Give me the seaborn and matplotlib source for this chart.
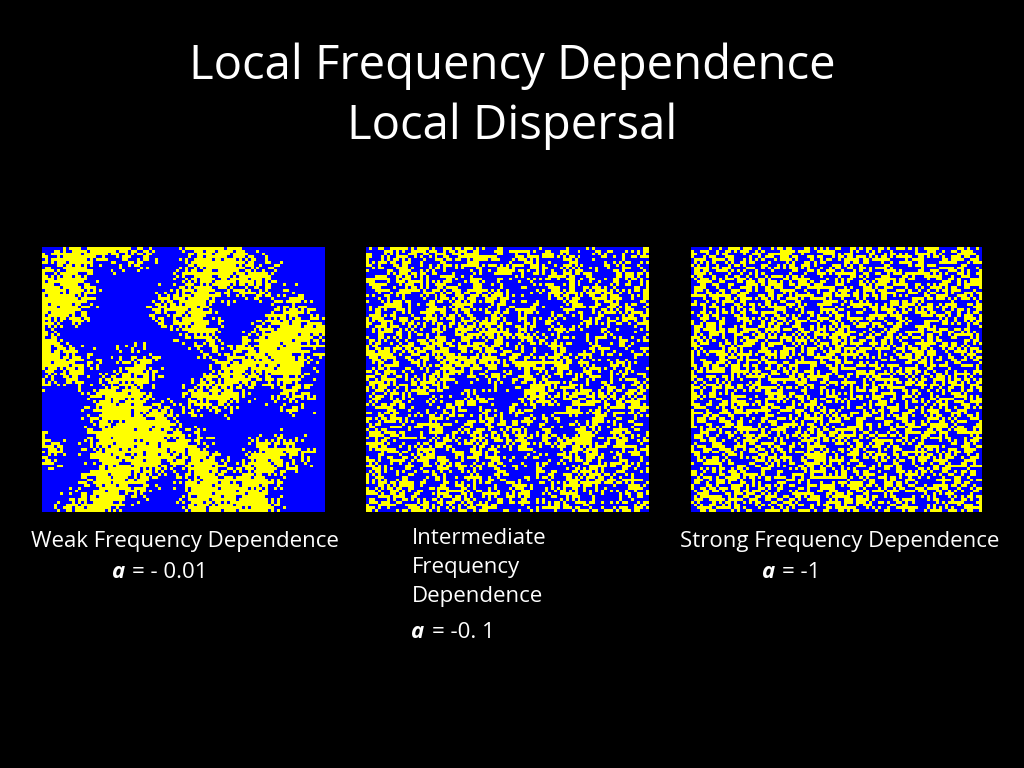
import numpy as np
import matplotlib
matplotlib.use("Agg")
import matplotlib.pyplot as plt
import seaborn as sns
from matplotlib.colors import ListedColormap

titles = ["Local Frequency Dependence", "Local Dispersal"]
labels = ["Weak Frequency Dependence", "Intermediate\nFrequency\nDependence", "Strong Frequency Dependence"]
a_values = ["= - 0.01", "= -0. 1", "= -1"]
# coarse yellow(1)/blue(0) layout
coarse_weak = np.array([
 [0,1,1,1,0,1,1,0,0,0],
 [1,1,0,0,0,1,1,1,0,0],
 [1,1,0,0,1,1,0,0,1,0],
 [1,0,0,0,0,1,0,1,1,1],
 [1,1,0,1,0,0,1,1,1,0],
 [0,0,1,1,0,1,1,0,1,0],
 [0,0,1,1,1,0,0,0,0,0],
 [1,0,1,1,1,1,0,1,1,0],
 [0,0,1,1,0,1,1,1,0,0],
 [0,1,1,0,0,1,1,1,0,0]], float)
N = 95

def hashgrid(n, m, seed):
    i, j = np.meshgrid(np.arange(n), np.arange(m), indexing="ij")
    v = np.sin(i * 12.9898 + j * 78.233 + seed * 37.719) * 43758.5453
    return v - np.floor(v)

def upsample(c, n):
    k = c.shape[0]
    x = np.linspace(0, k - 1, n)
    rows = np.array([np.interp(x, np.arange(k), r) for r in c])
    return np.array([np.interp(x, np.arange(k), col) for col in rows.T]).T

g1 = (0.6 * upsample(coarse_weak, N) + 0.1 * upsample(hashgrid(30, 30, 7), N)
      + 0.6 * hashgrid(N, N, 1) > 0.72).astype(int)
mid = upsample(hashgrid(24, 24, 5), N)
g2 = (0.55 * mid + 0.7 * hashgrid(N, N, 2) > 0.66).astype(int)
g3 = (hashgrid(N, N, 3) > 0.5).astype(int)

fig = plt.figure(figsize=(10.24, 7.68), dpi=100, facecolor="black")
cmap = ListedColormap(["#0000FF", "#FFFF00"])
boxes = [(42, 325), (366, 649), (691, 982)]
for (x0, x1), g in zip(boxes, [g1, g2, g3]):
    ax = fig.add_axes([x0 / 1024, 1 - 512 / 768, (x1 - x0) / 1024, 265 / 768])
    sns.heatmap(g, ax=ax, cmap=cmap, cbar=False, xticklabels=False, yticklabels=False, vmin=0, vmax=1)
    ax.set_axis_off()

font = "Open Sans"
fig.text(0.5, 1 - 66 / 768, titles[0], color="white", fontsize=34, ha="center", va="center", family=font)
fig.text(0.5, 1 - 126 / 768, titles[1], color="white", fontsize=34, ha="center", va="center", family=font)

fs = 16
fig.text(185 / 1024, 1 - 542 / 768, labels[0], color="white", fontsize=fs, ha="center", va="center", family=font)
fig.text(118 / 1024, 1 - 573 / 768, "a", color="white", fontsize=fs, ha="center", va="center", family=font, weight="bold", style="italic")
fig.text(132 / 1024, 1 - 573 / 768, a_values[0], color="white", fontsize=fs, ha="left", va="center", family=font)

fig.text(412 / 1024, 1 - 528 / 768, labels[1], color="white", fontsize=fs, ha="left", va="top", family=font, linespacing=1.5)
fig.text(417 / 1024, 1 - 633 / 768, "a", color="white", fontsize=fs, ha="center", va="center", family=font, weight="bold", style="italic")
fig.text(432 / 1024, 1 - 633 / 768, a_values[1], color="white", fontsize=fs, ha="left", va="center", family=font)

fig.text(840 / 1024, 1 - 542 / 768, labels[2], color="white", fontsize=fs, ha="center", va="center", family=font)
fig.text(768 / 1024, 1 - 573 / 768, "a", color="white", fontsize=fs, ha="center", va="center", family=font, weight="bold", style="italic")
fig.text(782 / 1024, 1 - 573 / 768, a_values[2], color="white", fontsize=fs, ha="left", va="center", family=font)

fig.savefig("out.png", dpi=100, facecolor="black")
